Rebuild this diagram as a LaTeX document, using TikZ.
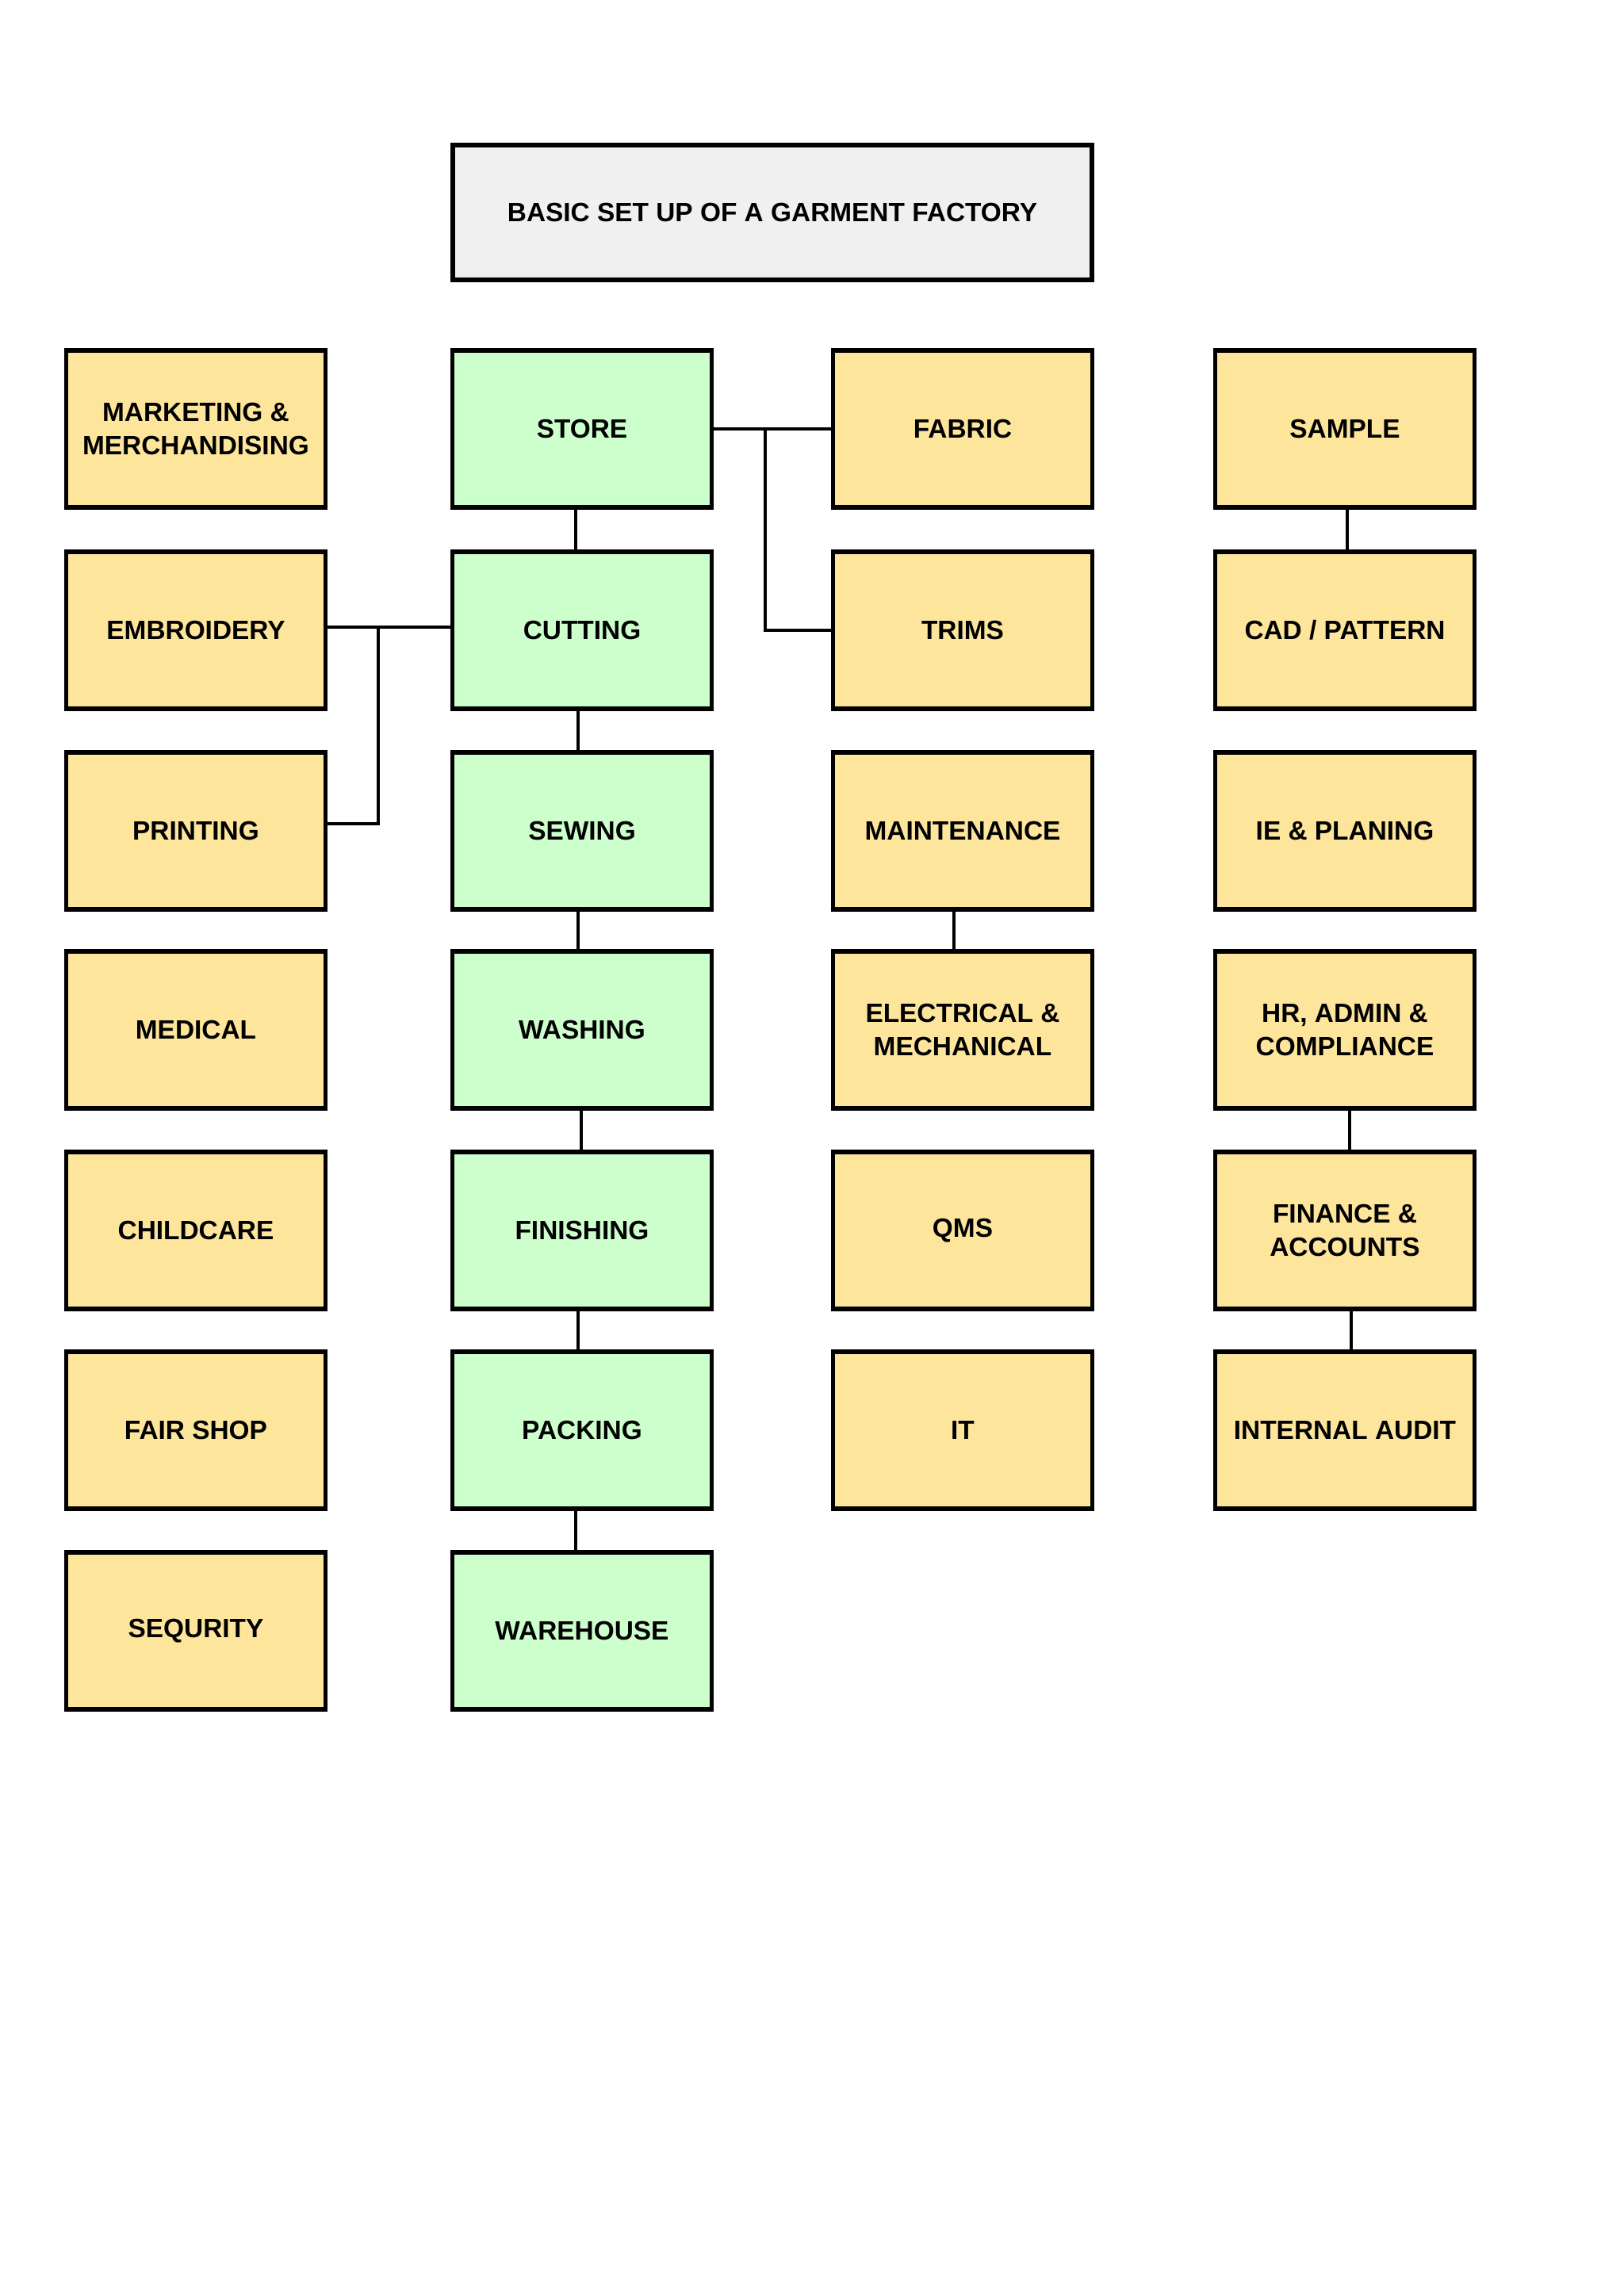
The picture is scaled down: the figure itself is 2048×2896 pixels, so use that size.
\documentclass[tikz,border=0pt]{standalone}
\usepackage{fontspec}
\setmainfont{Liberation Sans}
\begin{document}
\begin{tikzpicture}[x=0.01cm,y=-0.01cm,
  box/.style={draw=black,line width=1.6pt,minimum width=3.27cm,minimum height=1.98cm,align=center,font=\fontsize{9.5}{12}\selectfont\bfseries},
  ybox/.style={box,fill=yellow!40!orange!20!white,fill={rgb,255:red,253;green,230;blue,155}},
  gbox/.style={box,fill={rgb,255:red,204;green,255;blue,204}},
  ln/.style={line width=1.2pt}]
\useasboundingbox (0,0) rectangle (2048,2896);
\fill[white] (0,0) rectangle (2048,2896);
\node[box,fill={rgb,255:red,240;green,240;blue,240},minimum width=8.06cm,minimum height=1.7cm] (title) at (974,268) {BASIC SET UP OF A GARMENT FACTORY};
% column 1
\node[ybox] (mkt) at (247,541) {MARKETING \&\\MERCHANDISING};
\node[ybox] (emb) at (247,795) {EMBROIDERY};
\node[ybox] (prn) at (247,1048) {PRINTING};
\node[ybox] (med) at (247,1299) {MEDICAL};
\node[ybox] (chc) at (247,1552) {CHILDCARE};
\node[ybox] (fair) at (247,1804) {FAIR SHOP};
\node[ybox] (seq) at (247,2057) {SEQURITY};
% column 2
\node[gbox] (store) at (734,541) {STORE};
\node[gbox] (cut) at (734,795) {CUTTING};
\node[gbox] (sew) at (734,1048) {SEWING};
\node[gbox] (wash) at (734,1299) {WASHING};
\node[gbox] (fin) at (734,1552) {FINISHING};
\node[gbox] (pack) at (734,1804) {PACKING};
\node[gbox] (ware) at (734,2057) {WAREHOUSE};
% column 3
\node[ybox] (fab) at (1214,541) {FABRIC};
\node[ybox] (trim) at (1214,795) {TRIMS};
\node[ybox] (mnt) at (1214,1048) {MAINTENANCE};
\node[ybox] (elec) at (1214,1299) {ELECTRICAL \&\\MECHANICAL};
\node[ybox] (qms) at (1214,1552) {QMS};
\node[ybox] (it) at (1214,1804) {IT};
% column 4
\node[ybox] (smp) at (1696,541) {SAMPLE};
\node[ybox] (cad) at (1696,795) {CAD / PATTERN};
\node[ybox] (ie) at (1696,1048) {IE \& PLANING};
\node[ybox] (hr) at (1696,1299) {HR, ADMIN \&\\COMPLIANCE};
\node[ybox] (fa) at (1696,1552) {FINANCE \&\\ACCOUNTS};
\node[ybox] (ia) at (1696,1804) {INTERNAL AUDIT};
% connectors
\draw[ln] (store.south -| 726,0) -- (cut.north -| 726,0);
\draw[ln] (cut.south -| 729,0) -- (sew.north -| 729,0);
\draw[ln] (sew.south -| 729,0) -- (wash.north -| 729,0);
\draw[ln] (wash.south -| 733,0) -- (fin.north -| 733,0);
\draw[ln] (fin.south -| 729,0) -- (pack.north -| 729,0);
\draw[ln] (pack.south -| 726,0) -- (ware.north -| 726,0);
\draw[ln] (store.east) -- (fab.west);
\coordinate (sb) at (965,541);
\draw[ln] (sb) |- (trim.west);
\draw[ln] (emb.east |- 0,791) -- (cut.west |- 0,791);
\coordinate (eb) at (477,791);
\draw[ln] (eb) |- (prn.east |- 0,1039);
\draw[ln] (smp.south -| 1699,0) -- (cad.north -| 1699,0);
\draw[ln] (mnt.south -| 1203,0) -- (elec.north -| 1203,0);
\draw[ln] (hr.south -| 1702,0) -- (fa.north -| 1702,0);
\draw[ln] (fa.south -| 1704,0) -- (ia.north -| 1704,0);
\end{tikzpicture}
\end{document}
